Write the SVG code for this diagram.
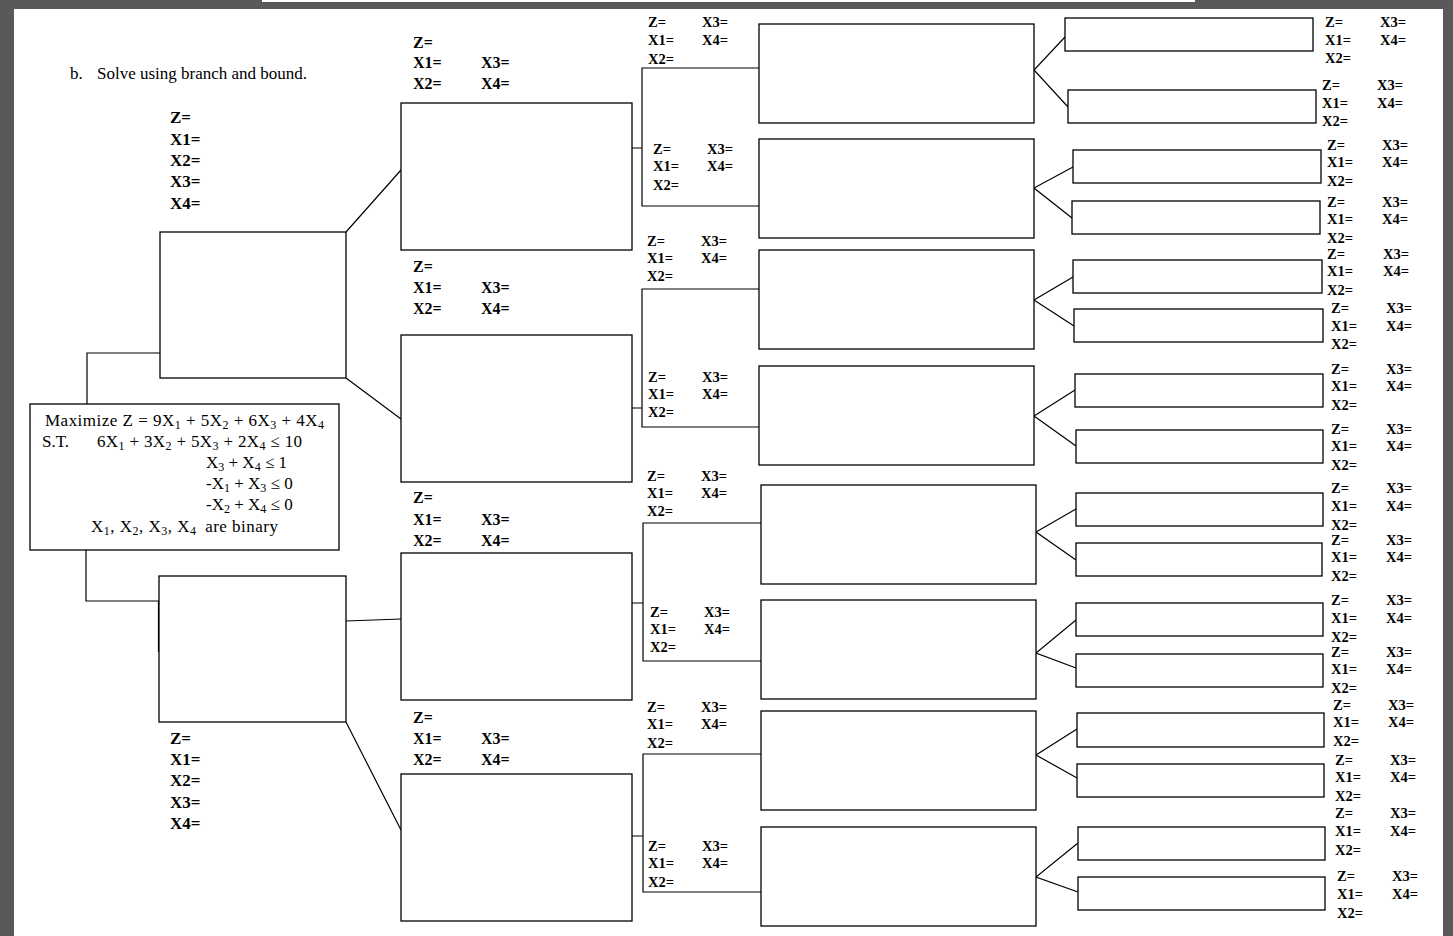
<svg xmlns="http://www.w3.org/2000/svg" width="1453" height="936" viewBox="0 0 1453 936">
<style>
.bx{fill:#fff;stroke:#000;stroke-width:1.3}
.ln{fill:none;stroke:#000;stroke-width:1.2}
.b17{font-family:"Liberation Serif",serif;font-weight:bold;font-size:17px}
.b16{font-family:"Liberation Serif",serif;font-weight:bold;font-size:16px}
.b13{font-family:"Liberation Serif",serif;font-weight:bold;font-size:14.5px}
.p{font-family:"Liberation Serif",serif;font-size:17px}
.s{font-size:12px}
</style>
<rect x="0" y="0" width="1453" height="936" fill="#595959"/>
<rect x="14" y="9" width="1429" height="927" fill="#fff"/>
<rect x="262" y="0" width="933" height="2" fill="#fff"/>

<text class="p" x="70" y="79">b.</text>
<text class="p" x="97" y="79">Solve using branch and bound.</text>

<g id="connectors">
<path class="ln" d="M87,404 V353 H160"/>
<path class="ln" d="M86,550 V601 H159"/>
<path d="M159,601 V652" stroke="#000" stroke-width="2.2"/>
<path class="ln" d="M346,232 L401,170 M346,378 L401,419 M346,621 L401,619 M346,722 L401,830"/>
<path class="ln" d="M632,148 H642 M759,68 H642 V206 H759"/>
<path class="ln" d="M632,408 H642 M759,289 H642 V427 H759"/>
<path class="ln" d="M632,603 H643 M761,523 H643 V661 H761"/>
<path class="ln" d="M632,836 H643 M761,754 H643 V892 H761"/>
<path class="ln" d="M1065,37 L1034,70 L1068,107"/>
<path class="ln" d="M1073,167 L1034,188 L1072,218"/>
<path class="ln" d="M1073,277 L1034,300 L1074,326"/>
<path class="ln" d="M1075,390 L1034,416 L1076,446"/>
<path class="ln" d="M1076,509 L1036,532 L1076,560"/>
<path class="ln" d="M1076,620 L1036,653 L1076,668"/>
<path class="ln" d="M1077,729 L1036,755 L1077,778"/>
<path class="ln" d="M1078,843 L1036,877 L1078,892"/>
</g>

<g id="problem">
<rect class="bx" x="30" y="404" width="309" height="146"/>
<text class="p" x="45" y="426" textLength="279">Maximize Z = 9X<tspan class="s" dy="3">1</tspan><tspan dy="-3"> + 5X</tspan><tspan class="s" dy="3">2</tspan><tspan dy="-3"> + 6X</tspan><tspan class="s" dy="3">3</tspan><tspan dy="-3"> + 4X</tspan><tspan class="s" dy="3">4</tspan></text>
<text class="p" x="42" y="447">S.T.</text>
<text class="p" x="97" y="447" textLength="205">6X<tspan class="s" dy="3">1</tspan><tspan dy="-3"> + 3X</tspan><tspan class="s" dy="3">2</tspan><tspan dy="-3"> + 5X</tspan><tspan class="s" dy="3">3</tspan><tspan dy="-3"> + 2X</tspan><tspan class="s" dy="3">4</tspan><tspan dy="-3"> ≤ 10</tspan></text>
<text class="p" x="206" y="468">X<tspan class="s" dy="3">3</tspan><tspan dy="-3"> + X</tspan><tspan class="s" dy="3">4</tspan><tspan dy="-3"> ≤ 1</tspan></text>
<text class="p" x="206" y="489">-X<tspan class="s" dy="3">1</tspan><tspan dy="-3"> + X</tspan><tspan class="s" dy="3">3</tspan><tspan dy="-3"> ≤ 0</tspan></text>
<text class="p" x="206" y="510">-X<tspan class="s" dy="3">2</tspan><tspan dy="-3"> + X</tspan><tspan class="s" dy="3">4</tspan><tspan dy="-3"> ≤ 0</tspan></text>
<text class="p" x="91" y="532" textLength="187">X<tspan class="s" dy="3">1</tspan><tspan dy="-3">, X</tspan><tspan class="s" dy="3">2</tspan><tspan dy="-3">, X</tspan><tspan class="s" dy="3">3</tspan><tspan dy="-3">, X</tspan><tspan class="s" dy="3">4</tspan><tspan dy="-3" dx="4"> are binary</tspan></text>
</g>

<g id="n1a"><rect class="bx" x="160" y="232" width="186" height="146"/>
<text class="b17" x="170" y="123">Z=</text><text class="b17" x="170" y="145">X1=</text><text class="b17" x="170" y="166">X2=</text><text class="b17" x="170" y="187">X3=</text><text class="b17" x="170" y="209">X4=</text></g>
<g id="n1b"><rect class="bx" x="159" y="576" width="187" height="146"/>
<text class="b17" x="170" y="744">Z=</text><text class="b17" x="170" y="765">X1=</text><text class="b17" x="170" y="786">X2=</text><text class="b17" x="170" y="808">X3=</text><text class="b17" x="170" y="829">X4=</text></g>

<g id="n2a"><rect class="bx" x="401" y="103" width="231" height="147"/>
<text class="b16" x="413" y="48">Z=</text><text class="b16" x="413" y="68">X1=</text><text class="b16" x="481" y="68">X3=</text><text class="b16" x="413" y="89">X2=</text><text class="b16" x="481" y="89">X4=</text></g>
<g id="n2b"><rect class="bx" x="401" y="335" width="231" height="147"/>
<text class="b16" x="413" y="272">Z=</text><text class="b16" x="413" y="293">X1=</text><text class="b16" x="481" y="293">X3=</text><text class="b16" x="413" y="314">X2=</text><text class="b16" x="481" y="314">X4=</text></g>
<g id="n2c"><rect class="bx" x="401" y="553" width="231" height="147"/>
<text class="b16" x="413" y="503">Z=</text><text class="b16" x="413" y="525">X1=</text><text class="b16" x="481" y="525">X3=</text><text class="b16" x="413" y="546">X2=</text><text class="b16" x="481" y="546">X4=</text></g>
<g id="n2d"><rect class="bx" x="401" y="774" width="231" height="147"/>
<text class="b16" x="413" y="723">Z=</text><text class="b16" x="413" y="744">X1=</text><text class="b16" x="481" y="744">X3=</text><text class="b16" x="413" y="765">X2=</text><text class="b16" x="481" y="765">X4=</text></g>

<g id="n3a"><rect class="bx" x="759" y="24" width="275" height="99"/>
<text class="b13" x="648" y="27">Z=</text><text class="b13" x="702" y="27">X3=</text><text class="b13" x="648" y="45">X1=</text><text class="b13" x="702" y="45">X4=</text><text class="b13" x="648" y="64">X2=</text></g>
<g id="n3b"><rect class="bx" x="759" y="139" width="275" height="99"/>
<text class="b13" x="653" y="154">Z=</text><text class="b13" x="707" y="154">X3=</text><text class="b13" x="653" y="171">X1=</text><text class="b13" x="707" y="171">X4=</text><text class="b13" x="653" y="190">X2=</text></g>
<g id="n3c"><rect class="bx" x="759" y="250" width="275" height="99"/>
<text class="b13" x="647" y="246">Z=</text><text class="b13" x="701" y="246">X3=</text><text class="b13" x="647" y="263">X1=</text><text class="b13" x="701" y="263">X4=</text><text class="b13" x="647" y="281">X2=</text></g>
<g id="n3d"><rect class="bx" x="759" y="366" width="275" height="99"/>
<text class="b13" x="648" y="382">Z=</text><text class="b13" x="702" y="382">X3=</text><text class="b13" x="648" y="399">X1=</text><text class="b13" x="702" y="399">X4=</text><text class="b13" x="648" y="417">X2=</text></g>
<g id="n3e"><rect class="bx" x="761" y="485" width="275" height="99"/>
<text class="b13" x="647" y="481">Z=</text><text class="b13" x="701" y="481">X3=</text><text class="b13" x="647" y="498">X1=</text><text class="b13" x="701" y="498">X4=</text><text class="b13" x="647" y="516">X2=</text></g>
<g id="n3f"><rect class="bx" x="761" y="600" width="275" height="99"/>
<text class="b13" x="650" y="617">Z=</text><text class="b13" x="704" y="617">X3=</text><text class="b13" x="650" y="634">X1=</text><text class="b13" x="704" y="634">X4=</text><text class="b13" x="650" y="652">X2=</text></g>
<g id="n3g"><rect class="bx" x="761" y="711" width="275" height="99"/>
<text class="b13" x="647" y="712">Z=</text><text class="b13" x="701" y="712">X3=</text><text class="b13" x="647" y="729">X1=</text><text class="b13" x="701" y="729">X4=</text><text class="b13" x="647" y="748">X2=</text></g>
<g id="n3h"><rect class="bx" x="761" y="827" width="275" height="99"/>
<text class="b13" x="648" y="851">Z=</text><text class="b13" x="702" y="851">X3=</text><text class="b13" x="648" y="868">X1=</text><text class="b13" x="702" y="868">X4=</text><text class="b13" x="648" y="887">X2=</text></g>

<g id="n4-1"><rect class="bx" x="1065" y="18" width="248" height="33"/>
<text class="b13" x="1325" y="27">Z=</text><text class="b13" x="1380" y="27">X3=</text><text class="b13" x="1325" y="45">X1=</text><text class="b13" x="1380" y="45">X4=</text><text class="b13" x="1325" y="63">X2=</text></g>
<g id="n4-2"><rect class="bx" x="1068" y="90" width="248" height="33"/>
<text class="b13" x="1322" y="90">Z=</text><text class="b13" x="1377" y="90">X3=</text><text class="b13" x="1322" y="108">X1=</text><text class="b13" x="1377" y="108">X4=</text><text class="b13" x="1322" y="126">X2=</text></g>
<g id="n4-3"><rect class="bx" x="1073" y="150" width="248" height="33"/>
<text class="b13" x="1327" y="150">Z=</text><text class="b13" x="1382" y="150">X3=</text><text class="b13" x="1327" y="167">X1=</text><text class="b13" x="1382" y="167">X4=</text><text class="b13" x="1327" y="186">X2=</text></g>
<g id="n4-4"><rect class="bx" x="1072" y="201" width="248" height="33"/>
<text class="b13" x="1327" y="207">Z=</text><text class="b13" x="1382" y="207">X3=</text><text class="b13" x="1327" y="224">X1=</text><text class="b13" x="1382" y="224">X4=</text><text class="b13" x="1327" y="243">X2=</text></g>
<g id="n4-5"><rect class="bx" x="1073" y="260" width="249" height="33"/>
<text class="b13" x="1327" y="259">Z=</text><text class="b13" x="1383" y="259">X3=</text><text class="b13" x="1327" y="276">X1=</text><text class="b13" x="1383" y="276">X4=</text><text class="b13" x="1327" y="295">X2=</text></g>
<g id="n4-6"><rect class="bx" x="1074" y="309" width="249" height="33"/>
<text class="b13" x="1331" y="313">Z=</text><text class="b13" x="1386" y="313">X3=</text><text class="b13" x="1331" y="331">X1=</text><text class="b13" x="1386" y="331">X4=</text><text class="b13" x="1331" y="349">X2=</text></g>
<g id="n4-7"><rect class="bx" x="1075" y="374" width="248" height="33"/>
<text class="b13" x="1331" y="374">Z=</text><text class="b13" x="1386" y="374">X3=</text><text class="b13" x="1331" y="391">X1=</text><text class="b13" x="1386" y="391">X4=</text><text class="b13" x="1331" y="410">X2=</text></g>
<g id="n4-8"><rect class="bx" x="1076" y="430" width="247" height="33"/>
<text class="b13" x="1331" y="434">Z=</text><text class="b13" x="1386" y="434">X3=</text><text class="b13" x="1331" y="451">X1=</text><text class="b13" x="1386" y="451">X4=</text><text class="b13" x="1331" y="470">X2=</text></g>
<g id="n4-9"><rect class="bx" x="1076" y="493" width="247" height="33"/>
<text class="b13" x="1331" y="493">Z=</text><text class="b13" x="1386" y="493">X3=</text><text class="b13" x="1331" y="511">X1=</text><text class="b13" x="1386" y="511">X4=</text><text class="b13" x="1331" y="530">X2=</text></g>
<g id="n4-10"><rect class="bx" x="1076" y="543" width="246" height="33"/>
<text class="b13" x="1331" y="545">Z=</text><text class="b13" x="1386" y="545">X3=</text><text class="b13" x="1331" y="562">X1=</text><text class="b13" x="1386" y="562">X4=</text><text class="b13" x="1331" y="581">X2=</text></g>
<g id="n4-11"><rect class="bx" x="1076" y="603" width="247" height="33"/>
<text class="b13" x="1331" y="605">Z=</text><text class="b13" x="1386" y="605">X3=</text><text class="b13" x="1331" y="623">X1=</text><text class="b13" x="1386" y="623">X4=</text><text class="b13" x="1331" y="642">X2=</text></g>
<g id="n4-12"><rect class="bx" x="1076" y="654" width="247" height="33"/>
<text class="b13" x="1331" y="657">Z=</text><text class="b13" x="1386" y="657">X3=</text><text class="b13" x="1331" y="674">X1=</text><text class="b13" x="1386" y="674">X4=</text><text class="b13" x="1331" y="693">X2=</text></g>
<g id="n4-13"><rect class="bx" x="1077" y="713" width="247" height="34"/>
<text class="b13" x="1333" y="710">Z=</text><text class="b13" x="1388" y="710">X3=</text><text class="b13" x="1333" y="727">X1=</text><text class="b13" x="1388" y="727">X4=</text><text class="b13" x="1333" y="746">X2=</text></g>
<g id="n4-14"><rect class="bx" x="1077" y="764" width="247" height="33"/>
<text class="b13" x="1335" y="765">Z=</text><text class="b13" x="1390" y="765">X3=</text><text class="b13" x="1335" y="782">X1=</text><text class="b13" x="1390" y="782">X4=</text><text class="b13" x="1335" y="801">X2=</text></g>
<g id="n4-15"><rect class="bx" x="1078" y="827" width="247" height="33"/>
<text class="b13" x="1335" y="818">Z=</text><text class="b13" x="1390" y="818">X3=</text><text class="b13" x="1335" y="836">X1=</text><text class="b13" x="1390" y="836">X4=</text><text class="b13" x="1335" y="855">X2=</text></g>
<g id="n4-16"><rect class="bx" x="1078" y="877" width="247" height="33"/>
<text class="b13" x="1337" y="881">Z=</text><text class="b13" x="1392" y="881">X3=</text><text class="b13" x="1337" y="899">X1=</text><text class="b13" x="1392" y="899">X4=</text><text class="b13" x="1337" y="918">X2=</text></g>
</svg>
